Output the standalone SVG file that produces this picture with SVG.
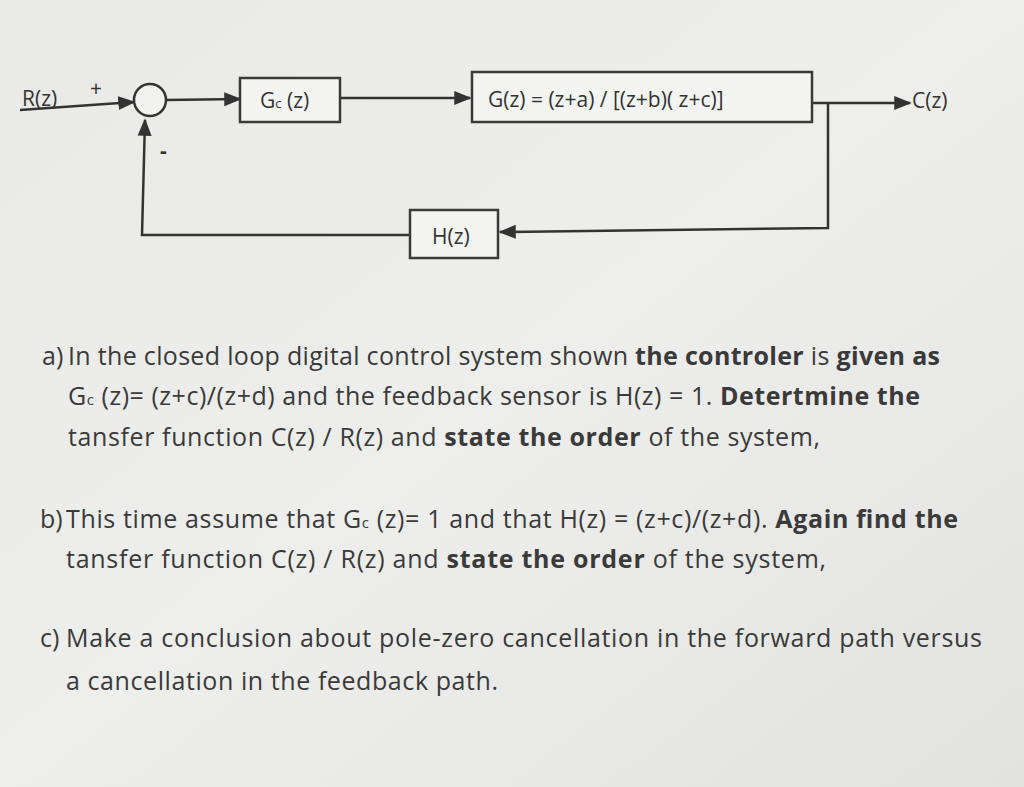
<svg xmlns="http://www.w3.org/2000/svg" width="1024" height="787" viewBox="0 0 1024 787">
<defs>
<linearGradient id="bg" x1="0" y1="0" x2="1" y2="1">
<stop offset="0" stop-color="#e9e9e7"/><stop offset="0.5" stop-color="#eeeeec"/><stop offset="1" stop-color="#e2e2e0"/>
</linearGradient>
<marker id="ar" viewBox="0 0 10 10" refX="9" refY="5" markerWidth="7" markerHeight="7" orient="auto"><path d="M0,1 L10,5 L0,9 z" fill="#333"/></marker>
</defs>
<style>
.ln{stroke:#333;stroke-width:2.5;fill:none}
.bx{stroke:#3a3a3a;stroke-width:2.5;fill:#f4f4f2}
.t{font-family:"Open Sans","Liberation Sans",sans-serif;font-size:25px;fill:#3a3a3a}
.d{font-family:"Open Sans","Liberation Sans",sans-serif;font-size:21px;fill:#333}
.b{font-weight:bold}
</style>
<rect width="1024" height="787" fill="url(#bg)"/>
<g id="connectors">
<line class="ln" x1="20" y1="110" x2="134" y2="102" marker-end="url(#ar)"/>
<line class="ln" x1="166" y1="100" x2="240" y2="99" marker-end="url(#ar)"/>
<line class="ln" x1="340" y1="98" x2="470" y2="98" marker-end="url(#ar)"/>
<line class="ln" x1="812" y1="103" x2="910" y2="103" marker-end="url(#ar)"/>
<polyline class="ln" points="828,103 828,228 500,232" marker-end="url(#ar)"/>
<polyline class="ln" points="410,235 142,235 145,120" marker-end="url(#ar)"/>
</g>
<g id="sum"><circle cx="150" cy="100" r="16" fill="#f2f2f0" stroke="#333" stroke-width="2.5"/>
<text class="d" x="90" y="96">+</text><text class="d b" x="160" y="158">-</text></g>
<g id="R"><text class="d" x="22" y="106">R(z)</text></g>
<g id="Gc"><rect class="bx" x="240" y="78" width="100" height="44"/><text class="d" x="260" y="108">G<tspan font-size="13">c</tspan> (z)</text></g>
<g id="G"><rect class="bx" x="472" y="72" width="340" height="50"/><text class="d" x="488" y="107">G(z) = (z+a) / [(z+b)( z+c)]</text></g>
<g id="C"><text class="d" x="912" y="108">C(z)</text></g>
<g id="H"><rect class="bx" x="410" y="210" width="88" height="48"/><text class="d" x="432" y="244">H(z)</text></g>
<g id="text">
<text class="t" x="42" y="365">a)</text>
<text class="t" x="68" y="365" textLength="872">In the closed loop digital control system shown <tspan class="b">the controler</tspan> is <tspan class="b">given as</tspan></text>
<text class="t" x="68" y="405" textLength="852">G<tspan font-size="15">c</tspan> (z)= (z+c)/(z+d) and the feedback sensor is H(z) = 1. <tspan class="b">Detertmine the</tspan></text>
<text class="t" x="68" y="446" textLength="752">tansfer function  C(z) / R(z) and <tspan class="b">state the order</tspan> of the system,</text>
<text class="t" x="40" y="528">b)</text>
<text class="t" x="66" y="528" textLength="892">This time assume that G<tspan font-size="15">c</tspan> (z)= 1 and that  H(z) = (z+c)/(z+d). <tspan class="b">Again find the</tspan></text>
<text class="t" x="66" y="568" textLength="760">tansfer function  C(z) / R(z) and <tspan class="b">state the order</tspan> of the system,</text>
<text class="t" x="40" y="647">c)</text>
<text class="t" x="66" y="647" textLength="916">Make a conclusion about pole-zero cancellation in the forward path versus</text>
<text class="t" x="66" y="690" textLength="432">a cancellation in the feedback path.</text>
</g>
</svg>
